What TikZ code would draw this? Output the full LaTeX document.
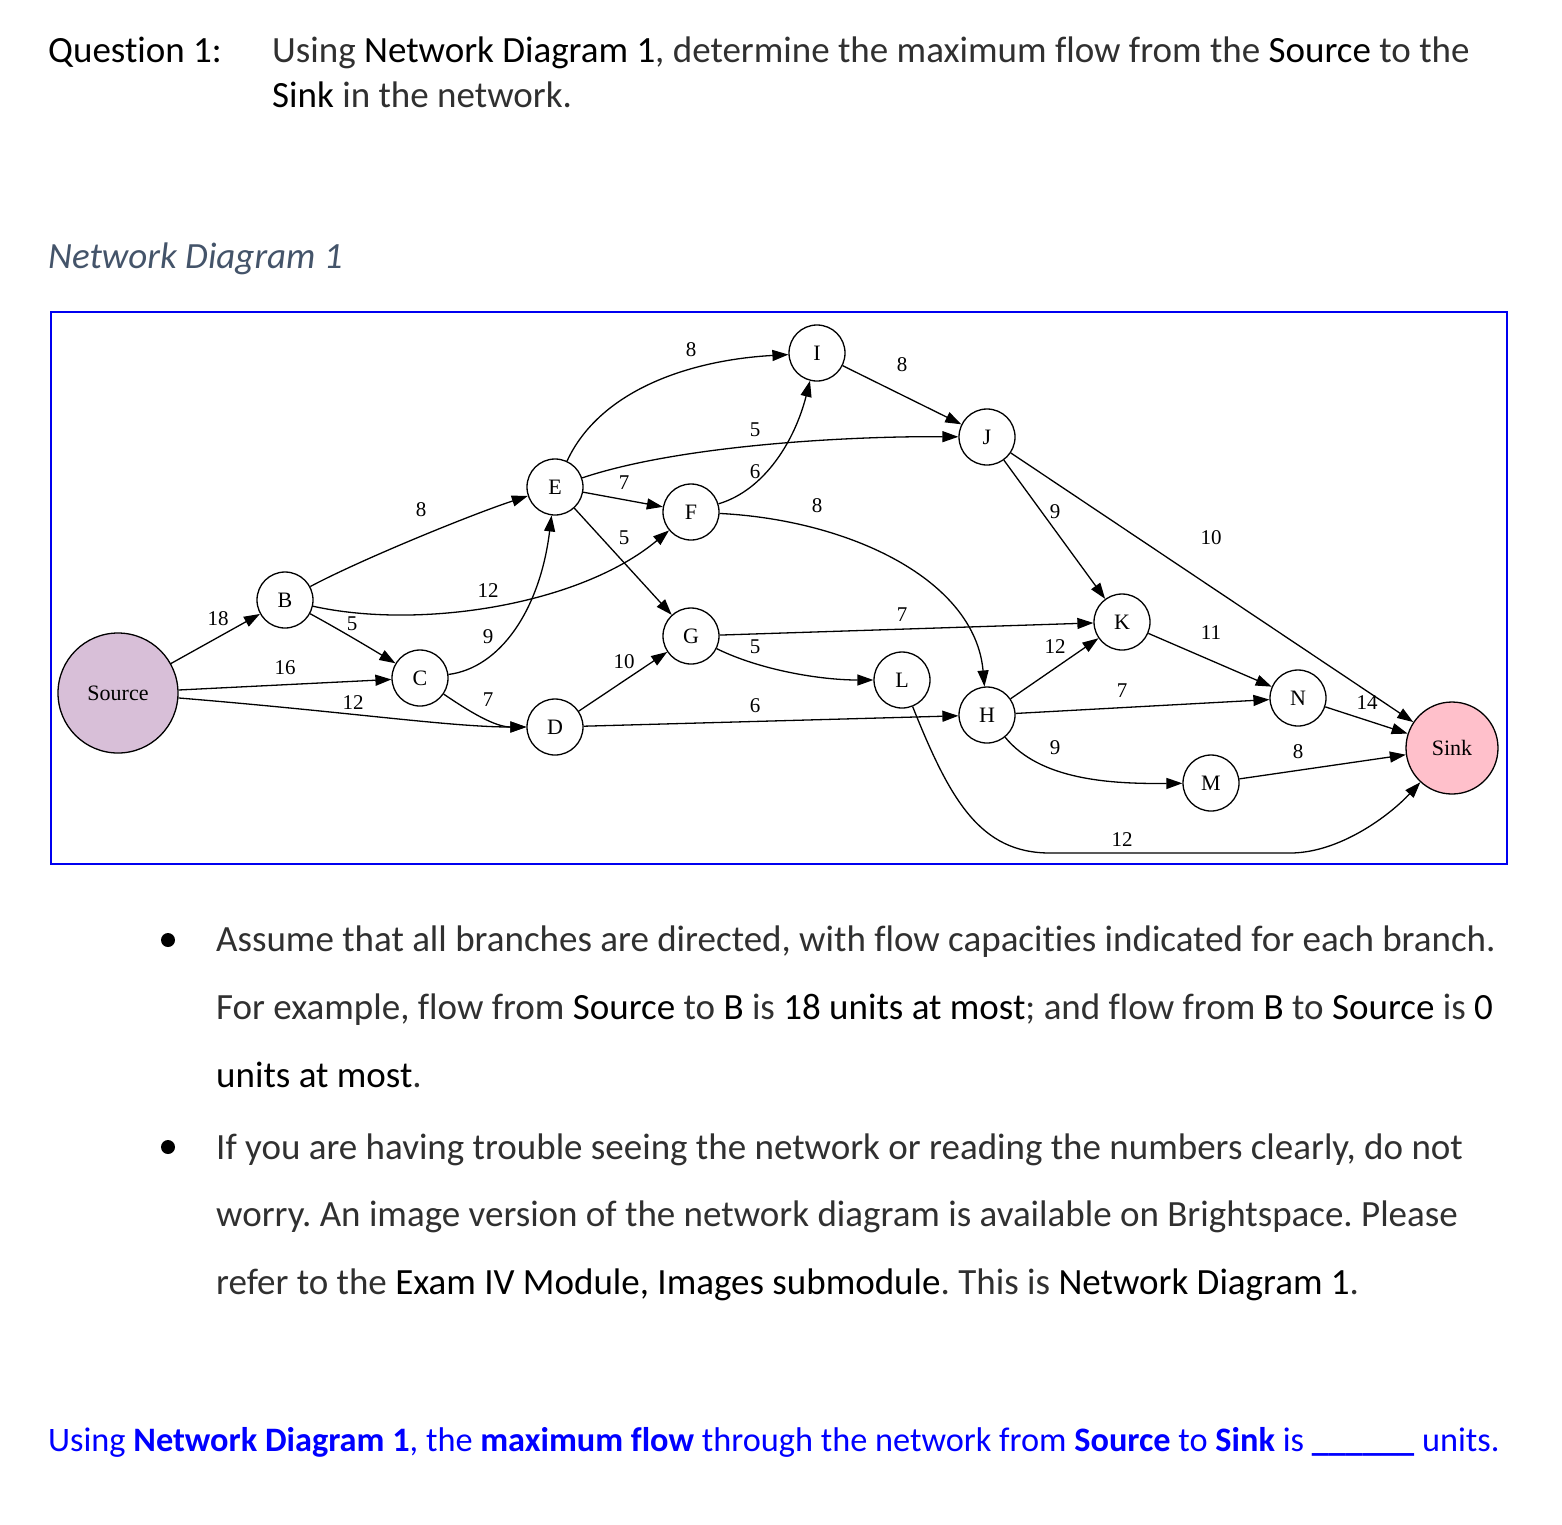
\documentclass[tikz,border=0pt]{standalone}
\usepackage{fontspec}
\setmainfont{Carlito}[Ligatures=NoCommon]
\newfontfamily\tnr{Liberation Serif}
\usetikzlibrary{arrows.meta}
\definecolor{txtgray}{HTML}{303030}
\definecolor{capcol}{HTML}{44546A}
\definecolor{srcfill}{HTML}{D8BFD8}
\definecolor{sinkfill}{HTML}{FFC0CB}
\definecolor{boxblue}{HTML}{0000F0}
\definecolor{ansblue}{HTML}{0000FF}
\newcommand\hl[1]{{\color{black}#1}}
\frenchspacing
\begin{document}
\begin{tikzpicture}[x=1pt,y=-1pt,
  txt/.style={anchor=base west, inner sep=0pt, text=txtgray, font=\fontsize{37}{44}\selectfont},
  vtx/.style={circle, draw=black, line width=1.3pt, minimum size=56pt, inner sep=0pt, font=\tnr\fontsize{22}{26}\selectfont},
  elab/.style={inner sep=0pt, font=\tnr\fontsize{21}{25}\selectfont},
  arc/.style={draw=black, line width=1.3pt, -{Triangle[length=16pt,width=11pt]}}]
\useasboundingbox (0,0) rectangle (1562,1524);
\fill[white] (0,0) rectangle (1562,1524);

% texts
\node[txt] (q) at (48,62) {\hl{Question 1:}};
\node[txt] (q1) at (272,62) {Using \hl{Network Diagram 1}, determine the maximum flow from the \hl{Source} to the};
\node[txt] (q2) at (272,107) {\hl{Sink} in the network.};
\node[txt, text=capcol, font=\fontsize{37}{44}\selectfont\itshape] (cap) at (48,268) {Network Diagram 1};

\fill[black] (168,940) circle (7);
\fill[black] (168,1147) circle (7);
\node[txt] (b1) at (216,951) {Assume that all branches are directed, with flow capacities indicated for each branch.};
\node[txt] (b2) at (216,1019) {For example, flow from \hl{Source} to \hl{B} is \hl{18 units at most}; and flow from \hl{B} to \hl{Source} is \hl{0}};
\node[txt] (b3) at (216,1087) {\hl{units at most}.};
\node[txt] (b4) at (216,1159) {If you are having trouble seeing the network or reading the numbers clearly, do not};
\node[txt] (b5) at (216,1226) {worry. An image version of the network diagram is available on Brightspace. Please};
\node[txt] (b6) at (216,1294) {refer to the \hl{Exam IV Module, Images submodule}. This is \hl{Network Diagram 1}.};
\node[txt, text=ansblue, font=\fontsize{34.3}{42}\selectfont] (ans) at (48,1451) {Using \textbf{Network Diagram 1}, the \textbf{maximum flow} through the network from \textbf{Source} to \textbf{Sink} is \textbf{\_\_\_\_\_\_} units.};

% frame
\draw[boxblue, line width=2pt] (51,312) rectangle (1507,864);

% vertices
\node[vtx, minimum size=120pt, fill=srcfill] (Source) at (118,693) {Source};
\node[vtx, minimum size=92pt, fill=sinkfill] (Sink) at (1452,748) {Sink};
\node[vtx] (B) at (285,600) {B};
\node[vtx] (C) at (420,678) {C};
\node[vtx] (D) at (555,727) {D};
\node[vtx] (E) at (555,487) {E};
\node[vtx] (F) at (691,512) {F};
\node[vtx] (G) at (691,636) {G};
\node[vtx] (I) at (817,353) {I};
\node[vtx] (J) at (987,437) {J};
\node[vtx] (L) at (902,680) {L};
\node[vtx] (H) at (987,715) {H};
\node[vtx] (K) at (1122,622) {K};
\node[vtx] (N) at (1298,698) {N};
\node[vtx] (M) at (1211,783) {M};

% edges
\draw[arc] (Source) -- (B);
\draw[arc] (Source) -- (C);
\draw[arc] (Source) .. controls (350,712) and (450,727) .. (D);
\draw[arc] (B) .. controls (360,560) and (470,515) .. (E);
\draw[arc] (B) .. controls (420,630) and (580,605) .. (F);
\draw[arc] (B) .. controls (340,630) and (370,648) .. (C);
\draw[arc] (C) .. controls (500,668) and (540,610) .. (E);
\draw[arc] (C) .. controls (470,712) and (495,727) .. (D);
\draw[arc] (D) -- (G);
\draw[arc] (D) -- (H);
\draw[arc] (E) .. controls (600,390) and (690,360) .. (I);
\draw[arc] (E) .. controls (680,445) and (850,436) .. (J);
\draw[arc] (E) -- (F);
\draw[arc] (E) -- (G);
\draw[arc] (F) .. controls (765,490) and (795,440) .. (I);
\draw[arc] (F) .. controls (850,520) and (975,580) .. (H);
\draw[arc] (G) -- (K);
\draw[arc] (G) .. controls (760,670) and (820,680) .. (L);
\draw[arc] (I) -- (J);
\draw[arc] (J) -- (K);
\draw[arc] (J) -- (Sink);
\draw[arc] (L) .. controls (950,800) and (980,853) .. (1050,853) -- (1290,853) .. controls (1340,853) and (1390,815) .. (Sink);
\draw[arc] (H) -- (K);
\draw[arc] (H) -- (N);
\draw[arc] (H) .. controls (1040,780) and (1110,784) .. (M);
\draw[arc] (K) -- (N);
\draw[arc] (N) -- (Sink);
\draw[arc] (M) -- (Sink);

% edge labels
\node[elab] (l1) at (218,619) {18};
\node[elab] (l2) at (285,668) {16};
\node[elab] (l3) at (353,703) {12};
\node[elab] (l4) at (352,624) {5};
\node[elab] (l5) at (421,510) {8};
\node[elab] (l6) at (488,591) {12};
\node[elab] (l7) at (488,637) {9};
\node[elab] (l8) at (488,700) {7};
\node[elab] (l9) at (624,662) {10};
\node[elab] (l10) at (755,706) {6};
\node[elab] (l11) at (691,350) {8};
\node[elab] (l12) at (755,430) {5};
\node[elab] (l13) at (624,483) {7};
\node[elab] (l14) at (624,538) {5};
\node[elab] (l15) at (755,472) {6};
\node[elab] (l16) at (817,506) {8};
\node[elab] (l17) at (902,615) {7};
\node[elab] (l18) at (755,647) {5};
\node[elab] (l19) at (902,365) {8};
\node[elab] (l20) at (1055,512) {9};
\node[elab] (l21) at (1211,538) {10};
\node[elab] (l22) at (1122,840) {12};
\node[elab] (l23) at (1055,647) {12};
\node[elab] (l24) at (1122,691) {7};
\node[elab] (l25) at (1055,748) {9};
\node[elab] (l26) at (1211,633) {11};
\node[elab] (l27) at (1367,703) {14};
\node[elab] (l28) at (1298,752) {8};
\end{tikzpicture}
\end{document}
